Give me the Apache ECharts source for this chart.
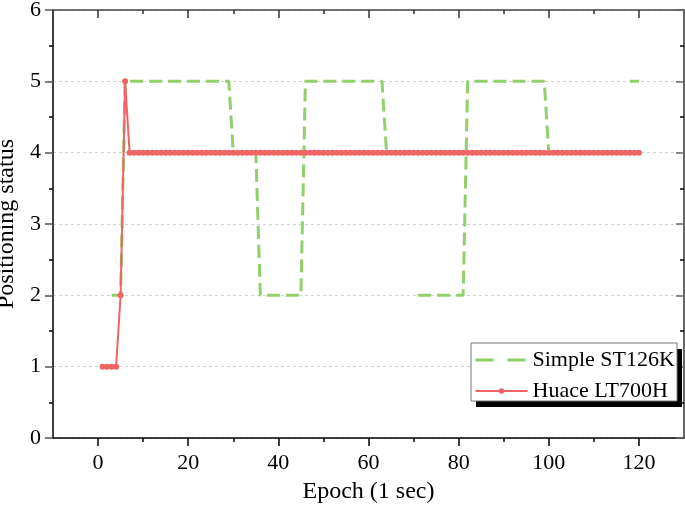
<!DOCTYPE html>
<html lang="en">
    <head>
        <meta charset="UTF-8" />
        <title>Positioning status</title>
        <style>
            * {
                box-sizing: border-box;
                margin: 0;
                padding: 0;
            }
            html,
            body {
                background: #fff;
            }
            #chart {
                width: 685px;
                height: 507px;
            }
        </style>
    </head>
    <body>
        <div id="chart"></div>
        <script src="https://cdn.jsdelivr.net/npm/echarts@6/dist/echarts.min.js"></script>
        <script>
            // tick positions
            var xMajorTicks = [0, 20, 40, 60, 80, 100, 120]
            var xMinorTicks = [10, 30, 50, 70, 90, 110]

            // Huace LT700H, one status per epoch 1..120
            var huaceStatus = [
                1, 1, 1, 1, 2, 5, 4, 4, 4, 4, 4, 4, 4, 4, 4, 4, 4, 4, 4, 4,
                4, 4, 4, 4, 4, 4, 4, 4, 4, 4, 4, 4, 4, 4, 4, 4, 4, 4, 4, 4,
                4, 4, 4, 4, 4, 4, 4, 4, 4, 4, 4, 4, 4, 4, 4, 4, 4, 4, 4, 4,
                4, 4, 4, 4, 4, 4, 4, 4, 4, 4, 4, 4, 4, 4, 4, 4, 4, 4, 4, 4,
                4, 4, 4, 4, 4, 4, 4, 4, 4, 4, 4, 4, 4, 4, 4, 4, 4, 4, 4, 4,
                4, 4, 4, 4, 4, 4, 4, 4, 4, 4, 4, 4, 4, 4, 4, 4, 4, 4, 4, 4
            ]

            // Simple ST126K, [epoch, status] at the points where it changes
            // ('-' = no fix, the line breaks there)
            var simplePoints = [
                [3, 2], [5, 2], [6, 5], [29, 5], [30, 4], [35, 4], [36, 2],
                [45, 2], [46, 5], [63, 5], [64, 4], [69, 4], [70, '-'],
                [71, 2], [81, 2], [82, 5], [99, 5], [100, 4], [116, 4],
                [117, '-'], [118, 5], [120, 5]
            ]

            var serif = '"Liberation Serif", "Times New Roman", serif'

            var huacePoints = huaceStatus.map(function (v, i) {
                return [i + 1, v]
            })

            var chart = echarts.init(document.getElementById('chart'))

            chart.setOption({
                animation: false,
                backgroundColor: '#fff',
                grid: {
                    left: 53,
                    right: 1,
                    top: 10,
                    bottom: 69,
                    containLabel: false,
                    outerBoundsMode: 'none'
                },
                // legend frame with the hard black drop shadow
                graphic: [
                    {
                        type: 'rect',
                        z: 10,
                        shape: { x: 476, y: 349, width: 206, height: 58 },
                        style: { fill: '#000' }
                    },
                    {
                        type: 'rect',
                        z: 11,
                        shape: { x: 471, y: 343, width: 206, height: 58 },
                        style: { fill: '#fff', stroke: '#777', lineWidth: 1 }
                    }
                ],
                legend: {
                    orient: 'vertical',
                    left: 471,
                    top: 344,
                    z: 20,
                    padding: [5, 3, 5, 3],
                    itemWidth: 52,
                    itemHeight: 7,
                    itemGap: 9,
                    textStyle: {
                        fontFamily: serif,
                        fontSize: 22,
                        color: '#000'
                    },
                    data: [
                        {
                            name: 'Simple ST126K',
                            itemStyle: { opacity: 0 },
                            lineStyle: { type: [18, 14], width: 3 }
                        },
                        { name: 'Huace LT700H' }
                    ]
                },
                xAxis: [
                    {
                        type: 'value',
                        position: 'bottom',
                        min: -10,
                        max: 130,
                        name: 'Epoch (1 sec)',
                        nameLocation: 'middle',
                        nameGap: 42,
                        nameTextStyle: {
                            fontFamily: serif,
                            fontSize: 24,
                            color: '#000'
                        },
                        axisLine: {
                            onZero: false,
                            lineStyle: { color: '#000', width: 1.5 }
                        },
                        axisTick: {
                            customValues: xMajorTicks,
                            length: 8,
                            lineStyle: { color: '#000', width: 1.5 }
                        },
                        axisLabel: {
                            customValues: xMajorTicks,
                            fontFamily: serif,
                            fontSize: 22,
                            color: '#000',
                            margin: 14
                        },
                        splitLine: { show: false }
                    },
                    {
                        type: 'value',
                        position: 'bottom',
                        min: -10,
                        max: 130,
                        axisLine: { show: false, onZero: false },
                        axisTick: {
                            customValues: xMinorTicks,
                            length: 4,
                            lineStyle: { color: '#000', width: 1.5 }
                        },
                        axisLabel: { show: false },
                        splitLine: { show: false }
                    },
                    {
                        type: 'value',
                        position: 'top',
                        min: -10,
                        max: 130,
                        axisLine: {
                            onZero: false,
                            lineStyle: { color: '#444', width: 1.5 }
                        },
                        axisTick: {
                            inside: true,
                            customValues: xMajorTicks,
                            length: 8,
                            lineStyle: { color: '#333', width: 1.5 }
                        },
                        axisLabel: { show: false },
                        splitLine: { show: false }
                    },
                    {
                        type: 'value',
                        position: 'top',
                        min: -10,
                        max: 130,
                        axisLine: { show: false, onZero: false },
                        axisTick: {
                            inside: true,
                            customValues: xMinorTicks,
                            length: 4,
                            lineStyle: { color: '#333', width: 1.5 }
                        },
                        axisLabel: { show: false },
                        splitLine: { show: false }
                    }
                ],
                yAxis: [
                    {
                        type: 'value',
                        position: 'left',
                        min: 0,
                        max: 6,
                        interval: 1,
                        name: 'Positioning status',
                        nameLocation: 'middle',
                        nameGap: 25,
                        nameTextStyle: {
                            fontFamily: serif,
                            fontSize: 24,
                            color: '#000'
                        },
                        axisLine: {
                            show: true,
                            onZero: false,
                            lineStyle: { color: '#000', width: 1.5 }
                        },
                        axisTick: {
                            show: true,
                            length: 8,
                            lineStyle: { color: '#555', width: 1.5 }
                        },
                        minorTick: {
                            show: true,
                            splitNumber: 2,
                            length: 4,
                            lineStyle: { color: '#000', width: 1.5 }
                        },
                        axisLabel: {
                            fontFamily: serif,
                            fontSize: 22,
                            color: '#000',
                            margin: 12
                        },
                        splitLine: {
                            show: true,
                            lineStyle: {
                                color: '#d0d0d0',
                                type: [3, 3],
                                width: 1
                            }
                        }
                    },
                    {
                        type: 'value',
                        position: 'right',
                        min: 0,
                        max: 6,
                        interval: 1,
                        axisLine: {
                            show: true,
                            onZero: false,
                            lineStyle: { color: '#333', width: 1.5 }
                        },
                        axisTick: {
                            show: true,
                            inside: true,
                            length: 8,
                            lineStyle: { color: '#666', width: 1.5 }
                        },
                        minorTick: {
                            show: true,
                            splitNumber: 2,
                            length: 4,
                            lineStyle: { color: '#000', width: 1.5 }
                        },
                        axisLabel: { show: false },
                        splitLine: { show: false }
                    }
                ],
                series: [
                    {
                        name: 'Simple ST126K',
                        type: 'line',
                        xAxisIndex: 0,
                        yAxisIndex: 0,
                        data: simplePoints,
                        showSymbol: false,
                        symbol: 'none',
                        connectNulls: false,
                        color: '#92d06c',
                        lineStyle: {
                            color: '#92d06c',
                            width: 3,
                            type: [13, 6]
                        },
                        z: 2
                    },
                    {
                        name: 'Huace LT700H',
                        type: 'line',
                        xAxisIndex: 0,
                        yAxisIndex: 0,
                        data: huacePoints,
                        symbol: 'circle',
                        symbolSize: 6,
                        showAllSymbol: true,
                        color: '#f06464',
                        itemStyle: { color: '#f06464' },
                        lineStyle: { color: '#f06464', width: 2 },
                        z: 3
                    }
                ]
            })
        </script>
    </body>
</html>
